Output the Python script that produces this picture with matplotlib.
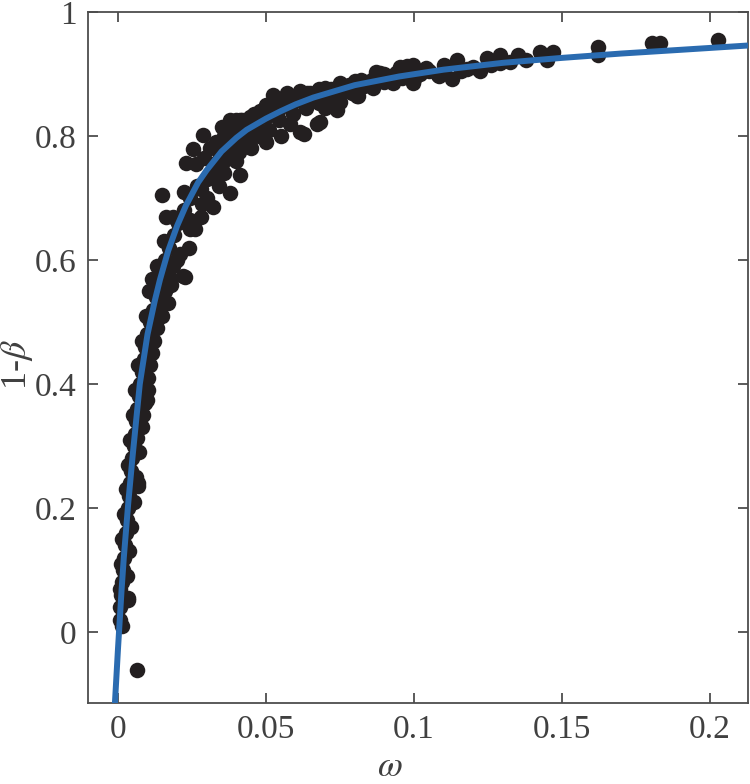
import numpy as np
import matplotlib
matplotlib.use("Agg")
from matplotlib import pyplot as plt

# measured points (omega, 1-beta), grouped by region of the cloud
omega_pts = [
    # steep part, on the curve
    0.0006, 0.0008, 0.0012, 0.0015, 0.0017, 0.0020, 0.0023, 0.0027, 0.0030, 0.0033,
    0.0037, 0.0041, 0.0045, 0.0049, 0.0053, 0.0057, 0.0061, 0.0066, 0.0070, 0.0074,
    0.0080, 0.0087, 0.0093, 0.0100, 0.0109, 0.0118, 0.0128, 0.0138, 0.0148, 0.0160,
    0.0174, 0.0189, 0.0204, 0.0223, 0.0243, 0.0266,
    # steep part, left edge
    0.0008, 0.0012, 0.0015, 0.0020, 0.0027, 0.0035, 0.0042, 0.0050, 0.0059, 0.0068,
    0.0080, 0.0095, 0.0113, 0.0132, 0.0155, 0.0185, 0.0222,
    # steep part, right edge
    0.0015, 0.0022, 0.0030, 0.0036, 0.0045, 0.0053, 0.0062, 0.0071, 0.0080, 0.0090,
    0.0101, 0.0116, 0.0133, 0.0155, 0.0180, 0.0210, 0.0245, 0.0285,
    0.0084, 0.0094, 0.0107, 0.0121, 0.0138, 0.0160, 0.0186,
    # bumps around the steep part
    0.0035, 0.0035, 0.0069, 0.0063, 0.0069, 0.0097, 0.0101, 0.0148, 0.0130, 0.0170,
    0.0180, 0.0220, 0.0200, 0.0240, 0.0160, 0.0260, 0.0280, 0.0300, 0.0243, 0.0226,
    0.0115, 0.0105,
    # bend and plateau, band
    0.0265, 0.0320, 0.0290, 0.0345, 0.0310, 0.0375, 0.0340, 0.0405, 0.0370, 0.0440,
    0.0400, 0.0470, 0.0430, 0.0500, 0.0460, 0.0540, 0.0500, 0.0580, 0.0550, 0.0620,
    0.0600, 0.0660, 0.0650, 0.0700, 0.0720, 0.0760, 0.0780, 0.0830, 0.0850, 0.0900,
    0.0920, 0.0960, 0.1020, 0.1050, 0.1100,
    0.0280, 0.0300, 0.0325, 0.0350, 0.0380, 0.0410, 0.0440, 0.0475, 0.0510, 0.0545,
    0.0590, 0.0635, 0.0680, 0.0730, 0.0790, 0.0860, 0.0930, 0.1000, 0.1080, 0.1160,
    0.1200, 0.1260, 0.1380,
    0.0330, 0.0360, 0.0420, 0.0480, 0.0530, 0.0580, 0.0640, 0.0700, 0.0800, 0.0870,
    0.0940, 0.1040, 0.1100,
    # bend, lower side and far right
    0.0322, 0.0340, 0.0360, 0.0378, 0.0400, 0.0412, 0.0450, 0.0500, 0.0550, 0.0580,
    0.0615, 0.0628, 0.0672, 0.0682, 0.0700, 0.0739, 0.0750, 0.0806, 0.0812, 0.0998,
    0.1083, 0.1127, 0.1178, 0.1223, 0.1290, 0.1324, 0.1352, 0.1426, 0.1448, 0.1471,
    0.1623, 0.1623, 0.1803, 0.1831, 0.2028,
    # bend, upper side
    0.0148, 0.0162, 0.0230, 0.0254, 0.0288, 0.0350, 0.0380, 0.0400, 0.0412, 0.0446,
    0.0450, 0.0500, 0.0525, 0.0550, 0.0570, 0.0600, 0.0615, 0.0680, 0.0750, 0.0820,
    0.0873, 0.0885, 0.0900, 0.0953, 0.0975, 0.0998, 0.1144, 0.1246, 0.1290,
    # outlier below zero
    0.0064,
]
beta_pts = [
    0.020, 0.040, 0.060, 0.080, 0.100, 0.120, 0.140, 0.160, 0.180, 0.200,
    0.220, 0.240, 0.260, 0.280, 0.300, 0.320, 0.340, 0.360, 0.380, 0.400,
    0.420, 0.440, 0.460, 0.480, 0.500, 0.520, 0.540, 0.560, 0.580, 0.600,
    0.620, 0.640, 0.660, 0.680, 0.700, 0.720,
    0.070, 0.110, 0.150, 0.190, 0.230, 0.270, 0.310, 0.350, 0.390, 0.430,
    0.470, 0.510, 0.550, 0.590, 0.630, 0.670, 0.710,
    0.010, 0.050, 0.090, 0.130, 0.170, 0.210, 0.250, 0.290, 0.330, 0.370,
    0.410, 0.450, 0.490, 0.530, 0.570, 0.610, 0.650, 0.690,
    0.350, 0.390, 0.430, 0.470, 0.510, 0.550, 0.590,
    0.052, 0.055, 0.240, 0.313, 0.235, 0.374, 0.390, 0.509, 0.500, 0.530,
    0.560, 0.575, 0.600, 0.620, 0.585, 0.650, 0.670, 0.700, 0.665, 0.573,
    0.570, 0.550,
    0.755, 0.755, 0.765, 0.770, 0.780, 0.780, 0.790, 0.795, 0.800, 0.805,
    0.810, 0.815, 0.820, 0.830, 0.835, 0.840, 0.845, 0.848, 0.855, 0.856,
    0.862, 0.862, 0.870, 0.868, 0.876, 0.874, 0.883, 0.880, 0.889, 0.887,
    0.895, 0.893, 0.900, 0.905, 0.903,
    0.715, 0.730, 0.740, 0.755, 0.765, 0.775, 0.790, 0.800, 0.810, 0.825,
    0.835, 0.845, 0.853, 0.862, 0.870, 0.878, 0.885, 0.892, 0.898, 0.905,
    0.912, 0.915, 0.922,
    0.790, 0.800, 0.825, 0.840, 0.850, 0.860, 0.870, 0.878, 0.888, 0.895,
    0.902, 0.910, 0.915,
    0.686, 0.720, 0.740, 0.708, 0.760, 0.737, 0.780, 0.790, 0.800, 0.820,
    0.807, 0.804, 0.820, 0.823, 0.845, 0.842, 0.855, 0.864, 0.864, 0.886,
    0.897, 0.892, 0.908, 0.905, 0.918, 0.920, 0.931, 0.936, 0.923, 0.936,
    0.944, 0.931, 0.950, 0.950, 0.955,
    0.705, 0.670, 0.757, 0.779, 0.802, 0.815, 0.825, 0.826, 0.826, 0.831,
    0.830, 0.850, 0.866, 0.860, 0.869, 0.865, 0.872, 0.875, 0.885, 0.890,
    0.904, 0.902, 0.900, 0.912, 0.913, 0.915, 0.923, 0.925, 0.931,
    -0.061,
]

# fitted curve
fit_omega = [-0.001, 0.0, 0.00125, 0.002, 0.0035, 0.005, 0.0074, 0.010, 0.0125, 0.0142,
             0.017, 0.020, 0.023, 0.0271, 0.030, 0.035, 0.040, 0.0435, 0.050, 0.055,
             0.060, 0.066, 0.080, 0.095, 0.110, 0.130, 0.150, 0.170, 0.190, 0.213]
fit_beta = [-0.115, -0.030, 0.068, 0.120, 0.208, 0.285, 0.400, 0.480, 0.535, 0.568,
            0.615, 0.655, 0.688, 0.725, 0.745, 0.775, 0.797, 0.810, 0.828, 0.840,
            0.851, 0.862, 0.882, 0.896, 0.907, 0.918, 0.926, 0.933, 0.939, 0.946]

plt.rcParams['font.family'] = ['Liberation Serif', 'DejaVu Serif']
plt.rcParams['mathtext.fontset'] = 'stix'

fig = plt.figure(figsize=(7.5, 7.84), dpi=100)
ax = fig.add_axes([0.1173, 0.1033, 0.88, 0.8814])

ax.scatter(omega_pts, beta_pts, s=125, color='#231f20', linewidths=0, zorder=2)
ax.plot(fit_omega, fit_beta, color='#2a6bb0', linewidth=4.3, zorder=3)

ax.set_xlim(-0.0101, 0.2128)
ax.set_ylim(-0.1145, 1.0)
ax.set_xticks([0, 0.05, 0.1, 0.15, 0.2])
ax.set_xticklabels(['0', '0.05', '0.1', '0.15', '0.2'])
ax.set_yticks([0, 0.2, 0.4, 0.6, 0.8, 1.0])
ax.set_yticklabels(['0', '0.2', '0.4', '0.6', '0.8', '1'])

gray = '#4d4d4d'
for sp in ax.spines.values():
    sp.set_color(gray)
    sp.set_linewidth(1.3)
ax.tick_params(direction='in', top=True, right=True, length=7, width=1.3,
               color=gray, labelcolor='#404040', labelsize=24, pad=8)

# omega label sits at the very bottom edge, as in the original
ax.set_xlabel(r'$\omega$', fontsize=26, color='#404040', va='center')
ax.xaxis.set_label_coords(0.458, -0.094)
ax.set_ylabel(r'1-$\beta$', fontsize=26, color='#404040', va='center')
ax.yaxis.set_label_coords(-0.108, 0.49)

fig.savefig('out.png', dpi=100)
